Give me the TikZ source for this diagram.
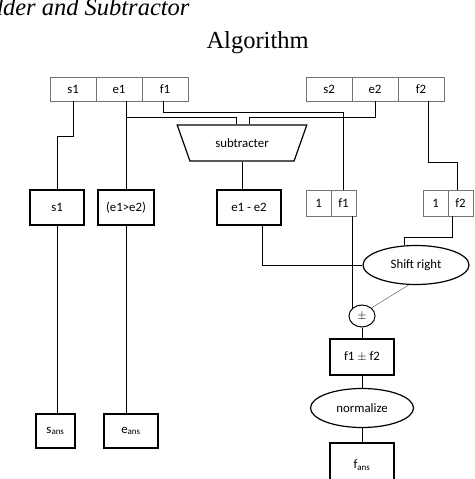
\documentclass[tikz,border=0pt]{standalone}
\usepackage{fontspec}
\setmainfont{Carlito}
\newfontfamily\titlefont{Liberation Serif}
\usepackage{tikz}
\usetikzlibrary{positioning,shapes.geometric,calc}
\tikzset{
  lbl/.style={font=\fontsize{12.8}{14}\selectfont},
  reg/.style={lbl,draw=black!55,line width=0.7pt,minimum width=46pt,minimum height=24pt,inner sep=0pt,outer sep=0pt},
  half/.style={reg,minimum width=25pt,minimum height=26pt},
  blk/.style={lbl,draw,line width=1.2pt,minimum height=35pt,inner sep=0pt},
  oval/.style={lbl,ellipse,draw,line width=1.2pt,inner sep=0pt},
  wire/.style={line width=0.8pt},
}

\begin{document}
\begin{tikzpicture}[x=1pt,y=-1pt]
  \useasboundingbox (0,0) rectangle (474,479);
  \node[font=\titlefont\itshape\fontsize{24.5}{28}\selectfont,anchor=base east] (ttl) at (193,15) {Adder and Subtractor};
  \node[font=\titlefont\fontsize{24.5}{28}\selectfont,anchor=base west] (alg) at (203,48) {Algorithm};

  % operand registers
  \node[reg] (s1r) at (73,89) {s1};
  \node[reg,right=0pt of s1r] (e1r) {e1};
  \node[reg,right=0pt of e1r] (f1r) {f1};
  \node[reg] (s2r) at (329,89) {s2};
  \node[reg,right=0pt of s2r] (e2r) {e2};
  \node[reg,right=0pt of e2r] (f2r) {f2};

  \node[lbl,trapezium,shape border rotate=180,trapezium stretches=true,
        trapezium left angle=54,trapezium right angle=54,draw,line width=1.2pt,
        minimum width=130pt,minimum height=36pt,inner sep=0pt] (sub) at (242,143) {subtracter};

  \node[blk,minimum width=54pt] (s1b) at (57,207.5) {s1};
  \node[blk,minimum width=56pt] (egt) at (126,207.5) {(e1>e2)};
  \node[blk,minimum width=64pt] (emn) at (249,207.5) {e1 - e2};
  \node[half] (o1) at (318.5,203) {1};
  \node[half,right=0pt of o1] (of1) {f1};
  \node[half] (o2) at (435.5,203) {1};
  \node[half,right=0pt of o2] (of2) {f2};

  \node[oval,minimum width=106pt,minimum height=39pt] (shr) at (416,265) {Shift right};
  \node[lbl,ellipse,draw,line width=1pt,minimum width=26pt,minimum height=22pt,inner sep=0pt] (pm) at (362,316) {$\pm$};
  \node[blk,minimum width=64pt,minimum height=36pt] (fpm) at (362,357) {f1 $\pm$ f2};
  \node[oval,minimum width=103pt,minimum height=39pt] (nrm) at (362,408) {normalize};
  \node[blk,minimum width=64pt,minimum height=44pt] (fans) at (362,465) {f\textsubscript{ans}};
  \node[blk,minimum width=39pt,minimum height=34pt] (sab) at (55.5,431) {s\textsubscript{ans}};
  \node[blk,minimum width=54pt,minimum height=34pt] (eab) at (131,431) {e\textsubscript{ans}};

  % wiring
  \draw[wire] (s1r.south) -- ++(0,35) -| (s1b.north);
  \draw[wire] (e1r.south -| egt.north) -- (egt.north);
  \draw[wire] ($(e1r.south -| egt.north)+(0,16)$) -| ([xshift=-6pt]sub.north);
  \draw[wire] (e2r.south) -- ++(0,16) -| ([xshift=7pt]sub.north);
  \draw[wire] ([xshift=-2pt]f1r.south) -- ++(0,11) -| (of1.north);
  \draw[wire] ([xshift=7pt]f2r.south) -- ++(0,61) -| ([xshift=-3pt]of2.north);
  \draw[wire] (sub.south) -- (sub.south |- emn.north);
  \draw[wire] ([xshift=13pt]emn.south) |- (shr.west);
  \draw[wire] ([xshift=-8pt]of2.south) -- ++(0,21) -| ([xshift=-12pt]shr.north);
  \draw[wire] (of1.south -| pm.north west) -- (pm.north west);
  \draw[black!70,line width=0.4pt] (shr.250) -- (pm.north east);
  \draw[wire] (pm.south) -- (fpm.north);
  \draw[wire] (fpm.south) -- (nrm.north);
  \draw[wire] (nrm.south) -- (fans.north);
  \draw[wire] (s1b.south) -- (s1b.south |- sab.north);
  \draw[wire] (egt.south) -- (egt.south |- eab.north);
\end{tikzpicture}
\end{document}
